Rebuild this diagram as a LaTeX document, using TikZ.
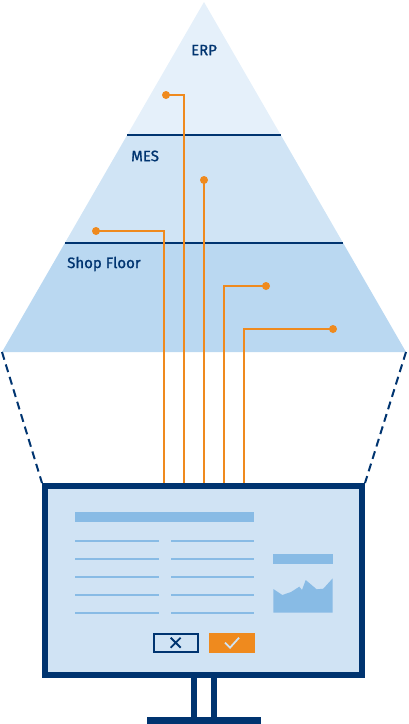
\documentclass[tikz,border=0pt]{standalone}
\usepackage{fontspec}
\setmainfont{Fira Sans}
\newfontfamily\tierfont{Fira Sans}[FakeBold=1.2]
\usetikzlibrary{positioning}

\definecolor{navy}{HTML}{003470}
\definecolor{signal}{HTML}{EF8A1E}
\definecolor{erpfill}{HTML}{E5F0FA}
\definecolor{mesfill}{HTML}{D0E4F5}
\definecolor{floorfill}{HTML}{BAD8F1}
\definecolor{screenfill}{HTML}{D0E3F4}
\definecolor{accent}{HTML}{88BBE5}

\begin{document}
\begin{tikzpicture}[
    x=1pt, y=-1pt,
    tier_label/.style={
            text=navy,
            font=\tierfont\fontsize{15}{15}\selectfont,
            inner sep=0pt
        },
    divider/.style={navy, line width=2pt},
    dot/.style={circle, fill=signal, inner sep=0pt, minimum size=8pt},
    link/.style={signal, line width=2pt},
    zoom_edge/.style={navy, line width=2pt, dashed, dash pattern=on 8pt off 5pt},
    screen/.style={
            draw=navy,
            fill=screenfill,
            line width=6pt,
            minimum width=317pt,
            minimum height=189pt
        },
    text_line/.style={accent, line width=2pt},
    cancel_btn/.style={draw=navy, fill=screenfill, line width=2pt, minimum width=44pt, minimum height=18pt},
    ok_btn/.style={fill=signal, minimum width=46pt, minimum height=20pt},
    leg/.style={navy, line width=6pt},
    ]

    \useasboundingbox (0,0) rectangle (408,724);

    % --- Pyramid ---
    \coordinate (apex) at (204,2);
    \coordinate (base_left) at (2,352);
    \coordinate (base_right) at (406,352);
    \fill[floorfill] (64.9,243) -- (343.1,243) -- (base_right) -- (base_left) -- cycle;
    \fill[mesfill] (127.2,135) -- (280.8,135) -- (343.1,243) -- (64.9,243) -- cycle;
    \fill[erpfill] (apex) -- (280.8,135) -- (127.2,135) -- cycle;
    \draw[divider] (127.2,135) -- (280.8,135);
    \draw[divider] (64.9,243) -- (343.1,243);

    \node[tier_label] (erp_label) at (204,50) {ERP};
    \node[tier_label, anchor=west] (mes_label) at (131,156) {MES};
    \node[tier_label, anchor=west] (floor_label) at (67,264) {Shop Floor};

    % --- Monitor ---
    \node[screen] (monitor) at (203.5,580.5) {};
    \draw[zoom_edge] (base_left) -- (monitor.north west);
    \draw[zoom_edge] (base_right) -- (monitor.north east);

    % --- Data points ---
    \node[dot] (erp_dot) at (166,95) {};
    \node[dot] (mes_dot) at (204,180) {};
    \node[dot] (mes_low_dot) at (96,231) {};
    \node[dot] (floor_dot) at (266,286) {};
    \node[dot] (floor_low_dot) at (333,329) {};

    \coordinate (in_a) at (164,483);
    \coordinate (in_b) at (183.5,483);
    \coordinate (in_c) at (204,483);
    \coordinate (in_d) at (224,483);
    \coordinate (in_e) at (244,483);

    % --- Links ---
    \draw[link] (erp_dot.center) -| (in_b);
    \draw[link] (mes_dot.center) -- (in_c);
    \draw[link] (mes_low_dot.center) -| (in_a);
    \draw[link] (floor_dot.center) -| (in_d);
    \draw[link] (floor_low_dot.center) -| (in_e);

    % --- Screen content ---
    \fill[accent] (75,512) rectangle (254,522);
    \foreach \y in {540.5,558.5,576.5,594.5,612.5} {
        \draw[text_line] (75,\y) -- (158.5,\y);
        \draw[text_line] (171,\y) -- (254,\y);
    }
    \fill[accent] (273.3,554) rectangle (332.7,564);
    \fill[accent] (273.3,589) -- (282.3,595) -- (291,592) -- (299.3,586.7) -- (302,590)
        -- (305.7,580) -- (316.7,589.3) -- (323.3,588.7) -- (332.7,578.3)
        -- (332.7,612.7) -- (273.3,612.7) -- cycle;

    \node[cancel_btn] (cancel) at (175.7,642.7) {};
    \draw[navy, line width=1.8pt] ([shift={(-5,-5)}]cancel.center) -- ([shift={(5,5)}]cancel.center)
        ([shift={(-5,5)}]cancel.center) -- ([shift={(5,-5)}]cancel.center);
    \node[ok_btn] (confirm) at (232,642.7) {};
    \draw[screenfill, line width=1.8pt] ([shift={(-7,0)}]confirm.center) -- ([shift={(-2,5)}]confirm.center)
        -- ([shift={(7,-5)}]confirm.center);

    % --- Stand ---
    \node[fill=navy, minimum width=114pt, minimum height=7pt, inner sep=0pt] (stand_base) at (204,720.5) {};
    \draw[leg] (194,678) -- (194 ,717);
    \draw[leg] (213.7,678) -- (213.7,717);

\end{tikzpicture}
\end{document}
